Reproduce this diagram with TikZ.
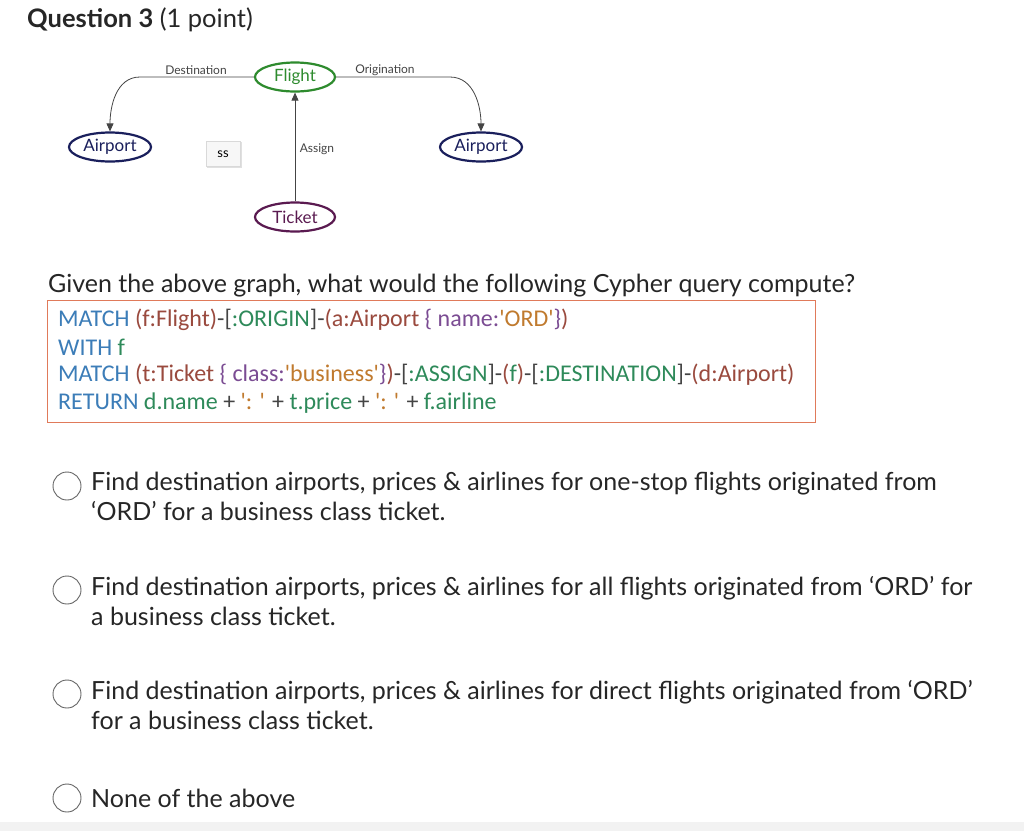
\documentclass[tikz,border=0pt]{standalone}
\usepackage{fontspec}
\setmainfont{Lato}
\newfontfamily\qfont{Carlito}
\usetikzlibrary{arrows.meta,shapes.geometric}
\definecolor{kw}{HTML}{3C7DB8}
\definecolor{pa}{HTML}{9A4A3E}
\definecolor{gr}{HTML}{2E8A5A}
\definecolor{pu}{HTML}{7B4C93}
\definecolor{orn}{HTML}{C07A2E}
\definecolor{dk}{HTML}{444444}
\definecolor{fgreen}{HTML}{2E8B2E}
\definecolor{navy}{HTML}{1A1F5C}
\definecolor{tpurp}{HTML}{5A1A50}
\definecolor{boxred}{HTML}{E07A5A}
\begin{document}
\begin{tikzpicture}[x=1pt,y=-1pt,
  ell/.style={draw,ellipse,line width=2.2pt,minimum width=80pt,minimum height=29pt,inner sep=0pt,font=\fontsize{17}{17}\selectfont},
  elab/.style={font=\fontsize{12}{12}\selectfont,text=dk,inner sep=1pt},
  conn/.style={draw=dk,line width=0.8pt,-{Triangle[length=8pt,width=7pt]}},
  opt/.style={anchor=west,align=left,font=\fontsize{25}{30}\selectfont,text=black!85,inner sep=0pt},
  radio/.style={draw=black!60,circle,line width=0.9pt,minimum size=28pt,inner sep=0pt},
  ql/.style={anchor=west,inner sep=0pt,font=\qfont\fontsize{24}{24}\selectfont}]
\useasboundingbox (0,0) rectangle (1024,831);
\fill[white] (0,0) rectangle (1024,831);
\fill[black!5] (0,822) rectangle (1024,831);
\node[anchor=west,inner sep=0pt,font=\fontsize{25.5}{26}\selectfont,text=black!85] (title) at (27,20) {\textbf{Question 3} (1 point)};
% graph
\node[ell,draw=fgreen,text=fgreen] (flight) at (295,77) {Flight};
\node[ell,draw=navy,text=navy,minimum width=82pt] (ap1) at (110,147) {Airport};
\node[ell,draw=navy,text=navy,minimum width=82pt] (ap2) at (481,147) {Airport};
\node[ell,draw=tpurp,text=tpurp] (ticket) at (295,217) {Ticket};
\fill[black!12] (207,142) rectangle (242,168);
\node[draw=black!15,fill=black!3,minimum width=34pt,minimum height=25pt,inner sep=0pt,font=\fontsize{13}{13}\selectfont] (ss) at (223,154) {ss};
\draw[conn] (flight.west) -- (140,77) to[out=180,in=90] (ap1.north);
\draw[conn] (flight.east) -- (450,77) to[out=0,in=90] (ap2.north);
\draw[conn] (ticket.north) -- (flight.south);
\node[elab] (ldest) at (196,70) {Destination};
\node[elab] (lorig) at (385,70) {Origination};
\node[elab] (lass) at (317,149) {Assign};
% question
\node[anchor=west,inner sep=0pt,font=\fontsize{25}{25}\selectfont,text=black!85] (q) at (48,286) {Given the above graph, what would the following Cypher query compute?};
\draw[boxred,line width=1pt] (47,300) rectangle (815,422);
\node[ql] (l1) at (58,320) {\color{kw}MATCH \color{pa}(f:Flight)\color{dk}-[\color{gr}:ORIGIN\color{dk}]-\color{pa}(a:Airport \color{pu}\{ name:\color{orn}'ORD'\color{pu} \}\color{pa})};
\node[ql] (l2) at (58,347) {\color{kw}WITH \color{gr}f};
\node[ql] (l3) at (58,375) {\color{kw}MATCH \color{pa}(t:Ticket \color{pu}\{ class:\color{orn}'business'\color{pu} \}\color{pa})\color{dk}-[\color{gr}:ASSIGN\color{dk}]-\color{pa}(\color{gr}f\color{pa})\color{dk}-[\color{gr}:DESTINATION\color{dk}]-\color{pa}(d:Airport)};
\node[ql] (l4) at (58,403) {\color{kw}RETURN \color{gr}d.name \color{dk}+ \color{orn}': ' \color{dk}+ \color{gr}t.price \color{dk}+ \color{orn}': ' \color{dk}+ \color{gr}f.airline};
% options
\node[radio] (r1) at (67,486) {};
\node[opt,anchor=north west] (o1) at (91,472) {Find destination airports, prices \& airlines for one-stop flights originated from\\‘ORD’ for a business class ticket.};
\node[radio] (r2) at (67,590) {};
\node[opt,anchor=north west] (o2) at (91,576) {Find destination airports, prices \& airlines for all flights originated from ‘ORD’ for\\a business class ticket.};
\node[radio] (r3) at (67,694) {};
\node[opt,anchor=north west] (o3) at (91,680) {Find destination airports, prices \& airlines for direct flights originated from ‘ORD’\\for a business class ticket.};
\node[radio] (r4) at (67,798) {};
\node[opt] (o4) at (91,798) {None of the above};
\end{tikzpicture}
\end{document}
